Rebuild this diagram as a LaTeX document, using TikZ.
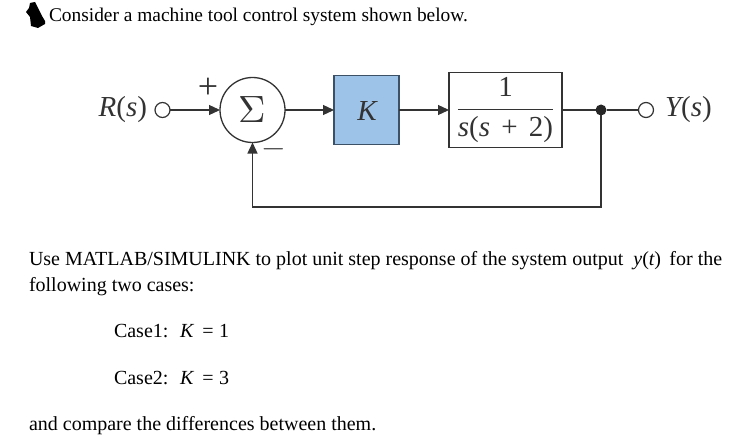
\documentclass[tikz,border=0pt]{standalone}
\usepackage{amsmath}
\usepackage{fontspec}
\setmainfont{Liberation Serif}
\usepackage{unicode-math}
\setmathfont{Latin Modern Math}
\setmathfont[range={it/{latin,Latin}}]{Liberation Serif Italic}
\setmathfont[range={up/{latin,Latin,num},"28,"29,"2B,"3D}]{Liberation Serif}
\usetikzlibrary{arrows.meta}
\definecolor{wire}{HTML}{333333}
\definecolor{kfill}{HTML}{9DC3E8}
\definecolor{kedge}{HTML}{3D5166}

\begin{document}
\begin{tikzpicture}[
  x=1pt,
  y=-1pt,
  line width=1.3pt,
  every node/.style={inner sep=0pt, outer sep=0pt},
  sig/.style={wire, -{Triangle[length=11pt,width=10pt]}},
  line/.style={wire},
  port/.style={circle, draw=wire, fill=white, minimum size=15pt, line width=1.2pt},
  dot/.style={circle, fill=black!85, minimum size=11pt},
  block/.style={rectangle, draw=wire, minimum width=113pt, minimum height=75pt},
  gain/.style={rectangle, draw=kedge, fill=kfill, minimum width=65pt, minimum height=69pt},
  sumnode/.style={circle, draw=wire, minimum size=65pt},
  para/.style={anchor=base west, font=\fontsize{20pt}{22pt}\selectfont},
  blk/.style={text=black!80, font=\fontsize{29pt}{31pt}\selectfont}
]
  \useasboundingbox (0,0) rectangle (744,441);
  % question text
  \fill[black] (30,3) -- (35,2) -- (38,8) -- (42,16) -- (45,21) -- (45,24) -- (38,28) -- (31,26) -- (30,17) -- (26,12) -- (29,8) -- cycle;
  \node[para, font=\fontsize{19.4pt}{22pt}\selectfont] (title) at (49,22) {Consider a machine tool control system shown below.};
  % block diagram
  \node[port] (in) at (162.5,110) {};
  \node[blk, anchor=east] (rlabel) at (147,110) {$R(s)$};
  \node[sumnode] (sum) at (252.5,110) {};
  \node[blk, font=\fontsize{38pt}{40pt}\selectfont] (sigma) at (252.5,110) {$\Sigma$};
  \node[gain] (k) at (366.5,110) {};
  \node[blk] (klabel) at (367,111) {$K$};
  \node[block] (plant) at (505.5,110) {};
  \node[blk] (frac) at (505.5,110) {$\dfrac{1}{s(s\,+\,2)}$};
  \node[dot] (tap) at (601,110) {};
  \node[port] (out) at (646,110) {};
  \node[blk, anchor=west] (ylabel) at (665,110) {$Y(s)$};
  \node[blk, font=\fontsize{36pt}{38pt}\selectfont] (plus) at (208,88) {$+$};
  \node[blk] (minus) at (274,153) {$-$};
  \coordinate (corner) at (252.5,207);
  \draw[sig] (in) -- (sum);
  \draw[sig] (sum) -- (k);
  \draw[sig] (k) -- (plant);
  \draw[line] (plant) -- (tap);
  \draw[line] (tap) -- (out);
  \draw[sig] (tap) |- (corner) -- (sum);
  % text below
  \node[para] (useline) at (29,265) {Use MATLAB/SIMULINK to plot unit step response of the system output~ $y(t)$~\,for the};
  \node[para] (useline2) at (29,291) {following two cases:};
  \node[para] (case1) at (114,337) {Case1:~ $K\,=1$};
  \node[para] (case2) at (114,384) {Case2:~ $K\,=3$};
  \node[para] (endline) at (29,430) {and compare the differences between them.};
\end{tikzpicture}
\end{document}
